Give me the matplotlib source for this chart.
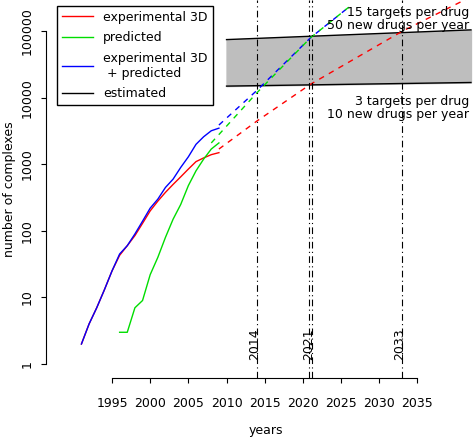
import matplotlib
matplotlib.use("Agg")
import matplotlib.pyplot as plt
import numpy as np

exp_years = [1991,1992,1993,1994,1995,1996,1997,1998,1999,2000,2001,2002,2003,2004,2005,2006,2007,2008,2009]
exp_vals = [2,4,7,13,25,43,60,85,130,200,280,380,500,650,850,1100,1250,1400,1500]
tot_years = [1991,1992,1993,1994,1995,1996,1997,1998,1999,2000,2001,2002,2003,2004,2005,2006,2007,2008,2009]
tot_vals = [2,4,7,13,25,45,60,90,140,220,300,450,600,900,1300,2000,2600,3200,3500]
pred_years = [1996,1997,1998,1999,2000,2001,2002,2003,2004,2005,2006,2007,2008,2009]
pred_vals = [3,3,7,9,22,40,80,150,250,480,800,1200,1700,2100]

ext_exp_years = [2009,2014,2021,2033,2042]
ext_exp_vals = [1700,4500,16000,100000,330000]
ext_tot_years = [2009,2014,2021,2026]
ext_tot_vals = [3900,13000,80000,230000]
ext_pred_years = [2008,2014,2021,2026]
ext_pred_vals = [2100,12000,80000,230000]

band_years = [2010,2042]
band_top = [75000,105000]
band_bot = [15000,17000]
vlines = [2014,2021,2033]

fig = plt.figure(figsize=(4.74,4.38),dpi=100)
ax = fig.add_axes([57/474,(438-378)/438,1-57/474,378/438])
ax.set_yscale('log')
ax.set_xlim(1987.8,2042.4)
ax.set_ylim(10**-0.21,10**5.47)

ax.fill_between(band_years,band_bot,band_top,color='#bebebe',zorder=1)
ax.plot(band_years,band_top,color='black',lw=1,zorder=2)
ax.plot(band_years,band_bot,color='black',lw=1,zorder=2)

ax.plot(ext_exp_years,ext_exp_vals,color='red',ls=(0,(4,4)),lw=1)
ax.plot(ext_tot_years,ext_tot_vals,color='blue',ls=(0,(4,4)),lw=1)
ax.plot(ext_pred_years,ext_pred_vals,color='#00dd00',ls=(0,(4,4)),lw=1)

ax.plot(exp_years,exp_vals,color='red',lw=1,label='experimental 3D')
ax.plot(pred_years,pred_vals,color='#00dd00',lw=1,label='predicted')
ax.plot(tot_years,tot_vals,color='blue',lw=1,label='experimental 3D\n + predicted')
ax.plot([],[],color='black',lw=1,label='estimated')

for v in vlines:
    xs = [v] if v != 2021 else [2020.85,2021.15]
    for x in xs:
        ax.axvline(x,color='black',ls=(0,(6,3,1,3)),lw=0.8)
    ax.text(v-0.3,1.15,str(v),rotation=90,ha='center',va='bottom',fontsize=9)

ax.text(2041.8,2.4e5,"15 targets per drug\n50 new drugs per year",ha='right',va='top',fontsize=9,linespacing=1.0)
ax.text(2041.8,1.1e4,"3 targets per drug\n10 new drugs per year",ha='right',va='top',fontsize=9,linespacing=1.0)

for s in ['top','right']:
    ax.spines[s].set_visible(False)
ax.spines['left'].set_position(('outward',8))
ax.spines['left'].set_bounds(1,100000)
ax.spines['bottom'].set_bounds(1995,2035)
ax.set_xticks(range(1995,2036,5))
ax.set_yticks([1,10,100,1000,10000,100000])
ax.set_yticklabels(['1','10','100','1000','10000','100000'],rotation=90,va='center')
ax.minorticks_off()
ax.tick_params(axis='x',labelsize=9,pad=10)
ax.tick_params(axis='y',labelsize=9,pad=5)
ax.set_xlabel('years',fontsize=9,labelpad=10)
ax.set_ylabel('number of complexes',fontsize=9)
leg = ax.legend(loc='upper left',bbox_to_anchor=(0,0.985),fontsize=9,fancybox=False,edgecolor='black',framealpha=1,handlelength=2.5,borderaxespad=0,labelspacing=0.6)
leg.get_frame().set_linewidth(1)
fig.savefig('out.png',dpi=100)
